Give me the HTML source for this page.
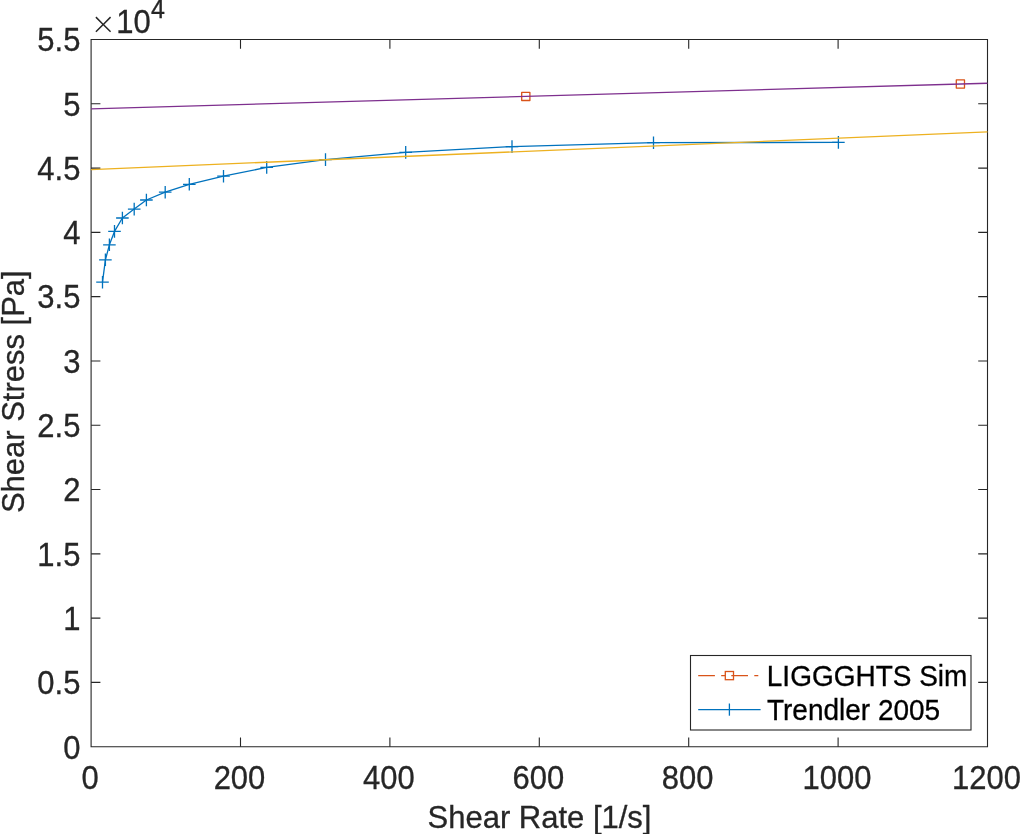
<!DOCTYPE html><html><head><meta charset="utf-8"><style>html,body{margin:0;padding:0;background:#fff;}svg{display:block;}text{font-family:"Liberation Sans",Arial,Helvetica,sans-serif;}</style></head><body>
<svg width="1020" height="834" viewBox="0 0 1020 834">
<rect x="0" y="0" width="1020" height="834" fill="#fff"/>
<path fill="none" stroke="#262626" stroke-width="1.10" stroke-linejoin="miter" d="M91.1 39.5H987.5V746.7H91.1Z"/>
<path fill="none" stroke="#262626" stroke-width="1.10" stroke-linecap="butt" d="M240.50 746.7v-9.3M240.50 39.5v9.3M389.90 746.7v-9.3M389.90 39.5v9.3M539.30 746.7v-9.3M539.30 39.5v9.3M688.70 746.7v-9.3M688.70 39.5v9.3M838.10 746.7v-9.3M838.10 39.5v9.3M91.1 682.41h9.3M987.5 682.41h-9.3M91.1 618.12h9.3M987.5 618.12h-9.3M91.1 553.83h9.3M987.5 553.83h-9.3M91.1 489.54h9.3M987.5 489.54h-9.3M91.1 425.25h9.3M987.5 425.25h-9.3M91.1 360.95h9.3M987.5 360.95h-9.3M91.1 296.66h9.3M987.5 296.66h-9.3M91.1 232.37h9.3M987.5 232.37h-9.3M91.1 168.08h9.3M987.5 168.08h-9.3M91.1 103.79h9.3M987.5 103.79h-9.3"/>
<g fill="none" stroke-linecap="butt" stroke-linejoin="round">
<polyline stroke="#0072BD" stroke-width="1.30" points="102.5,282.2 105.4,259.8 109.4,244.8 114.5,231.4 122.4,218.0 134.2,209.1 146.4,200.0 165.2,192.2 189.3,184.3 223.5,176.2 266.7,167.4 325.5,159.6 405.7,152.4 512.0,146.6 653.5,142.7 838.4,142.4"/>
<path stroke="#0072BD" stroke-width="1.30" d="M96.2 282.2h12.6M102.5 275.9v12.6M99.1 259.8h12.6M105.4 253.5v12.6M103.1 244.8h12.6M109.4 238.5v12.6M108.2 231.4h12.6M114.5 225.1v12.6M116.1 218.0h12.6M122.4 211.7v12.6M127.9 209.1h12.6M134.2 202.8v12.6M140.1 200.0h12.6M146.4 193.7v12.6M158.9 192.2h12.6M165.2 185.9v12.6M183.0 184.3h12.6M189.3 178.0v12.6M217.2 176.2h12.6M223.5 169.9v12.6M260.4 167.4h12.6M266.7 161.1v12.6M319.2 159.6h12.6M325.5 153.3v12.6M399.4 152.4h12.6M405.7 146.1v12.6M505.7 146.6h12.6M512.0 140.3v12.6M647.2 142.7h12.6M653.5 136.4v12.6M832.1 142.4h12.6M838.4 136.1v12.6"/>
<rect x="521.7" y="92.3" width="8.2" height="8.2" stroke="#D95319" stroke-width="1.30"/>
<rect x="956.3" y="79.9" width="8.2" height="8.2" stroke="#D95319" stroke-width="1.30"/>
<line x1="91.1" y1="169.6" x2="987.5" y2="131.9" stroke="#EDB120" stroke-width="1.30"/>
<line x1="91.10" y1="108.80" x2="987.50" y2="83.23" stroke="#7E2F8E" stroke-width="1.30"/>
</g>
<g>
<text transform="translate(90.10 788.50) scale(1 1.070)" font-size="31" fill="#262626" text-anchor="middle" stroke="#262626" stroke-width="0.30">0</text>
<text transform="translate(239.50 788.50) scale(1 1.070)" font-size="31" fill="#262626" text-anchor="middle" stroke="#262626" stroke-width="0.30">200</text>
<text transform="translate(388.90 788.50) scale(1 1.070)" font-size="31" fill="#262626" text-anchor="middle" stroke="#262626" stroke-width="0.30">400</text>
<text transform="translate(538.30 788.50) scale(1 1.070)" font-size="31" fill="#262626" text-anchor="middle" stroke="#262626" stroke-width="0.30">600</text>
<text transform="translate(687.70 788.50) scale(1 1.070)" font-size="31" fill="#262626" text-anchor="middle" stroke="#262626" stroke-width="0.30">800</text>
<text transform="translate(837.10 788.50) scale(1 1.070)" font-size="31" fill="#262626" text-anchor="middle" stroke="#262626" stroke-width="0.30">1000</text>
<text transform="translate(986.50 788.50) scale(1 1.070)" font-size="31" fill="#262626" text-anchor="middle" stroke="#262626" stroke-width="0.30">1200</text>
<text transform="translate(80.40 758.50) scale(1 1.070)" font-size="31" fill="#262626" text-anchor="end" stroke="#262626" stroke-width="0.30">0</text>
<text transform="translate(80.40 694.21) scale(1 1.070)" font-size="31" fill="#262626" text-anchor="end" stroke="#262626" stroke-width="0.30">0.5</text>
<text transform="translate(80.40 629.92) scale(1 1.070)" font-size="31" fill="#262626" text-anchor="end" stroke="#262626" stroke-width="0.30">1</text>
<text transform="translate(80.40 565.63) scale(1 1.070)" font-size="31" fill="#262626" text-anchor="end" stroke="#262626" stroke-width="0.30">1.5</text>
<text transform="translate(80.40 501.34) scale(1 1.070)" font-size="31" fill="#262626" text-anchor="end" stroke="#262626" stroke-width="0.30">2</text>
<text transform="translate(80.40 437.05) scale(1 1.070)" font-size="31" fill="#262626" text-anchor="end" stroke="#262626" stroke-width="0.30">2.5</text>
<text transform="translate(80.40 372.75) scale(1 1.070)" font-size="31" fill="#262626" text-anchor="end" stroke="#262626" stroke-width="0.30">3</text>
<text transform="translate(80.40 308.46) scale(1 1.070)" font-size="31" fill="#262626" text-anchor="end" stroke="#262626" stroke-width="0.30">3.5</text>
<text transform="translate(80.40 244.17) scale(1 1.070)" font-size="31" fill="#262626" text-anchor="end" stroke="#262626" stroke-width="0.30">4</text>
<text transform="translate(80.40 179.88) scale(1 1.070)" font-size="31" fill="#262626" text-anchor="end" stroke="#262626" stroke-width="0.30">4.5</text>
<text transform="translate(80.40 115.59) scale(1 1.070)" font-size="31" fill="#262626" text-anchor="end" stroke="#262626" stroke-width="0.30">5</text>
<text transform="translate(80.40 51.30) scale(1 1.070)" font-size="31" fill="#262626" text-anchor="end" stroke="#262626" stroke-width="0.30">5.5</text>
</g>
<text transform="translate(90.4 34.0)" font-size="30.4" fill="#262626" style="font-family:'DejaVu Sans',sans-serif;font-weight:200">&#215;</text>
<text transform="translate(116.20 32.60) scale(1 1.070)" font-size="31" fill="#262626" stroke="#262626" stroke-width="0.30">10</text>
<text transform="translate(151.10 17.50) scale(1 1.070)" font-size="25" fill="#262626" stroke="#262626" stroke-width="0.30">4</text>
<text transform="translate(539.50 827.60) scale(1 1.040)" font-size="31" fill="#262626" text-anchor="middle" stroke="#262626" stroke-width="0.30">Shear Rate [1/s]</text>
<text transform="translate(24.00 391.70) rotate(-90) scale(1 1.040)" font-size="31" fill="#262626" text-anchor="middle" stroke="#262626" stroke-width="0.30">Shear Stress [Pa]</text>
<rect x="690.5" y="655.5" width="280.5" height="74.5" fill="#fff" stroke="#262626" stroke-width="1.10"/>
<g fill="none" stroke-width="1.30">
<line x1="698.2" y1="675.6" x2="758.6" y2="675.6" stroke="#D95319" stroke-dasharray="16.7 6.3 4.0 6.1"/>
<rect x="725.3" y="671.5" width="8.2" height="8.2" stroke="#D95319"/>
<line x1="698.2" y1="709.6" x2="760.6" y2="709.6" stroke="#0072BD"/>
<line x1="729.4" y1="703.5" x2="729.4" y2="715.7" stroke="#0072BD"/>
</g>
<text transform="translate(766.80 685.80) scale(1 1.040)" font-size="28" fill="#000" stroke="#000" stroke-width="0.30">LIGGGHTS Sim</text>
<text transform="translate(767.00 719.90) scale(1 1.040)" font-size="28" fill="#000" stroke="#000" stroke-width="0.30">Trendler 2005</text>
</svg></body></html>
